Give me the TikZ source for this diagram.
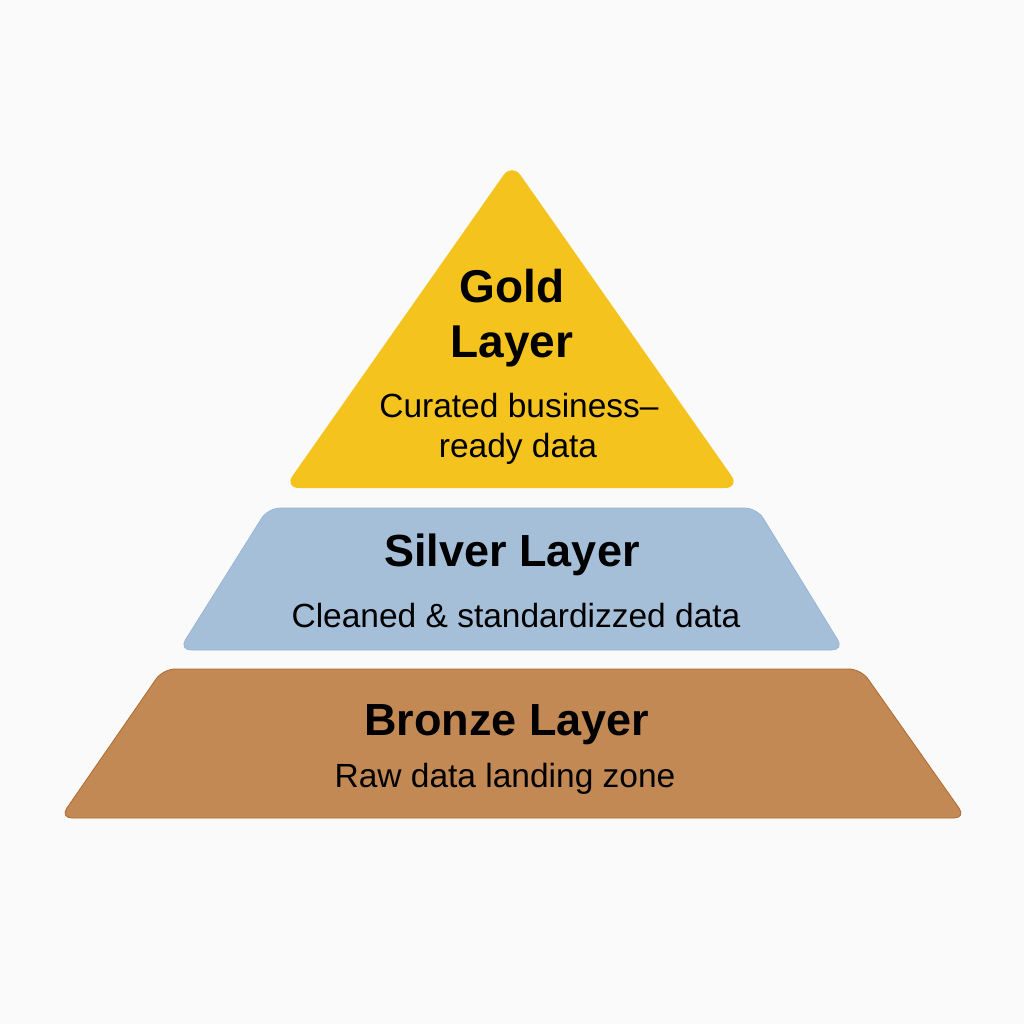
\documentclass[tikz,border=0pt]{standalone}
\usepackage{fontspec}
\setmainfont{Liberation Sans}
\definecolor{bgc}{HTML}{FAFAFA}
\definecolor{goldc}{HTML}{F5C31D}
\definecolor{silverc}{HTML}{A6BFD9}
\definecolor{silverline}{HTML}{93B1D2}
\definecolor{bronzec}{HTML}{C28955}
\definecolor{bronzeline}{HTML}{B06A30}
\tikzset{
  title/.style={anchor=base, inner sep=0pt, font=\bfseries\fontsize{45}{54}\selectfont},
  subtitle/.style={anchor=base, inner sep=0pt, font=\fontsize{33.5}{40}\selectfont},
}
\begin{document}
\begin{tikzpicture}[x=1pt,y=-1pt]
\fill[bgc] (0,0) rectangle (1024,1024);
\useasboundingbox (0,0) rectangle (1024,1024);
% Gold triangle
\fill[goldc, rounded corners=15pt] (512,163) -- (740,488) -- (284,488) -- cycle;
% Silver trapezoid
\filldraw[fill=silverc, draw=silverline, line width=0.6pt, rounded corners=12pt]
  (268,508) -- (757,508) -- (844,650) -- (179,650) -- cycle;
% Bronze trapezoid
\filldraw[fill=bronzec, draw=bronzeline, line width=0.8pt, rounded corners=12pt]
  (163,669) -- (861,669) -- (966,818) -- (60,818) -- cycle;
% Texts
\node[title, font=\bfseries\fontsize{46}{54}\selectfont] (g1) at (512,302) {Gold};
\node[title, font=\bfseries\fontsize{46}{54}\selectfont] (g2) at (512,357) {Layer};
\node[subtitle] (g3) at (519,417) {Curated business–};
\node[subtitle] (g4) at (518,457) {ready data};
\node[title] (s1) at (512,566) {Silver Layer};
\node[subtitle] (s2) at (516,627) {Cleaned \& standardizzed data};
\node[title] (b1) at (507,735) {Bronze Layer};
\node[subtitle] (b2) at (505,787) {Raw data landing zone};
\end{tikzpicture}
\end{document}
